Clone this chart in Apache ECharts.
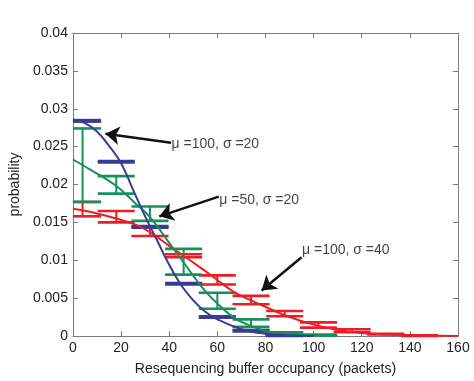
<!DOCTYPE html>
<html>
<head>
<meta charset="utf-8">
<script src="https://cdn.jsdelivr.net/npm/echarts@6/dist/echarts.min.js"></script>
<style>
html,body{margin:0;padding:0;background:#fff;}
#chart{width:474px;height:381px;}
</style>
</head>
<body>
<div id="chart"></div>
<script>
// ---- data ----
var xTicks = [0, 20, 40, 60, 80, 100, 120, 140, 160];
var yTicks = [0, 0.005, 0.01, 0.015, 0.02, 0.025, 0.03, 0.035, 0.04];

// smooth analytical curves (x, probability)
var blueCurveX = [0, 5, 10, 15, 20, 25, 30, 35, 40, 45, 50, 55, 60, 70, 80, 90, 100];
var blueCurveY = [0.0286, 0.0281, 0.0270, 0.0251, 0.0228, 0.0193, 0.0158, 0.0126, 0.0094, 0.0067, 0.0047, 0.0032, 0.0022, 0.0009, 0.0003, 0.0001, 0];

var greenCurveX = [0, 7, 18, 26, 32, 40, 46, 54, 60, 67, 75, 81, 90, 100, 110];
var greenCurveY = [0.0233, 0.0220, 0.0198, 0.0175, 0.0157, 0.0123, 0.0097, 0.0063, 0.0043, 0.0024, 0.0012, 0.0006, 0.0002, 0.0001, 0];

var redCurveX = [0, 7, 18, 26, 32, 40, 46, 54, 60, 67, 74, 81, 90, 100, 110, 120, 130, 140, 150, 160];
var redCurveY = [0.0168, 0.0164, 0.0155, 0.0147, 0.0137, 0.0119, 0.0106, 0.0088, 0.0074, 0.0058, 0.0047, 0.0037, 0.0025, 0.0015, 0.0008, 0.0004, 0.0002, 0.0001, 0.00003, 0];

// simulated histogram with error intervals (bin centre, upper, lower)
var binCenters = [4, 18, 32, 46, 60, 74, 88, 102, 116, 130, 144];
var blueUpper  = [0.0285, 0.0231, 0.0145, 0.0070, 0.0026, 0.0008, 0.0001];
var blueLower  = [0.0283, 0.0229, 0.0143, 0.0068, 0.0024, 0.0006, 0.0000];
var greenUpper = [0.0274, 0.0211, 0.0171, 0.0115, 0.0057, 0.0022, 0.0005, 0.0002];
var greenLower = [0.0177, 0.0188, 0.0152, 0.0081, 0.0036, 0.0012, 0.0003, 0.0001];
var redUpper   = [0.0177, 0.0165, 0.0144, 0.0108, 0.0080, 0.0053, 0.0033, 0.0018, 0.0009, 0.0003, 0.0001];
var redLower   = [0.0158, 0.0150, 0.0132, 0.0104, 0.0068, 0.0042, 0.0026, 0.0011, 0.0005, 0.0002, 0.0000];

// annotations
var noteText = ['\u03bc =100, \u03c3 =20', '\u03bc =50, \u03c3 =20', '\u03bc =100, \u03c3 =40'];
var noteX = [41.0, 60.8, 95.2];
var noteY = [0.0253, 0.0180, 0.0114];
var arrowTailX = [40.8, 60.6, 95.0];
var arrowTailY = [0.0255, 0.0184, 0.0104];
var arrowHeadX = [13.5, 35.9, 78.4];
var arrowHeadY = [0.0267, 0.0158, 0.0060];

// ---- build ----
var BLUE = '#3a3b92', GREEN = '#14925a', RED = '#ee1d25';
var FONT = '"Liberation Sans", Arial, Helvetica, sans-serif';

function zip(a, b) { return a.map(function (v, i) { return [v, b[i]]; }); }
function bars(up, lo) { return up.map(function (v, i) { return [binCenters[i], v, lo[i]]; }); }

var HALF = 7.7; // half bin width in data units
function makeRender(color) {
  return function (params, api) {
    var cs = params.coordSys;
    var c = api.value(0), hi = api.value(1), lo = api.value(2);
    var l1 = api.coord([c - HALF, hi]), r1 = api.coord([c + HALF, hi]);
    var l2 = api.coord([c - HALF, lo]), r2 = api.coord([c + HALF, lo]);
    var m1 = api.coord([c, hi]), m2 = api.coord([c, lo]);
    var xl = Math.max(l1[0], cs.x), xr = Math.min(r1[0], cs.x + cs.width);
    var st = { stroke: color, lineWidth: 2.6 };
    return {
      type: 'group',
      children: [
        { type: 'line', shape: { x1: xl, y1: l1[1], x2: xr, y2: r1[1] }, style: st },
        { type: 'line', shape: { x1: xl, y1: l2[1], x2: xr, y2: r2[1] }, style: st },
        { type: 'line', shape: { x1: m1[0], y1: m1[1], x2: m2[0], y2: m2[1] }, style: { stroke: color, lineWidth: 2 } }
      ]
    };
  };
}

function curve(name, xs, ys, color) {
  return {
    name: name, type: 'line', data: zip(xs, ys), showSymbol: false, symbol: 'none',
    smooth: 0.4,
    lineStyle: { color: color, width: 2 }, z: 3, animation: false
  };
}
function errs(name, up, lo, color) {
  return {
    name: name, type: 'custom', data: bars(up, lo), renderItem: makeRender(color),
    encode: { x: 0, y: [1, 2] }, z: 2, animation: false
  };
}

var markData = noteText.map(function (t, i) {
  return [{ coord: [arrowTailX[i], arrowTailY[i]] }, { coord: [arrowHeadX[i], arrowHeadY[i]] }];
});

var axisLineStyle = { color: '#7a7a7a', width: 1 };
var option = {
  backgroundColor: '#ffffff',
  animation: false,
  grid: { left: 66, right: 16, top: 33, bottom: 39, containLabel: false },
  xAxis: [{
    type: 'value', min: 0, max: 160, interval: 20, position: 'bottom',
    name: 'Resequencing buffer occupancy (packets)', nameLocation: 'middle', nameGap: 26,
    nameTextStyle: { fontFamily: FONT, fontSize: 14, color: '#222' },
    axisLine: { show: true, onZero: false, lineStyle: axisLineStyle },
    axisTick: { show: true, inside: true, length: 5, lineStyle: axisLineStyle },
    axisLabel: { fontFamily: FONT, fontSize: 14, color: '#222', margin: 5,
      formatter: function (v) { return xTicks.indexOf(v) >= 0 ? String(v) : ''; } },
    splitLine: { show: false }
  }, {
    type: 'value', min: 0, max: 160, interval: 20, position: 'top',
    axisLine: { show: true, onZero: false, lineStyle: axisLineStyle },
    axisTick: { show: true, inside: true, length: 5, lineStyle: axisLineStyle },
    axisLabel: { show: false }, splitLine: { show: false }
  }],
  yAxis: [{
    type: 'value', min: 0, max: 0.04, interval: 0.005, position: 'left',
    name: 'probability', nameLocation: 'middle', nameGap: 50,
    nameTextStyle: { fontFamily: FONT, fontSize: 14, color: '#222' },
    axisLine: { show: true, onZero: false, lineStyle: axisLineStyle },
    axisTick: { show: true, inside: true, length: 5, lineStyle: axisLineStyle },
    axisLabel: { fontFamily: FONT, fontSize: 14, color: '#222', margin: 5,
      formatter: function (v) {
        for (var i = 0; i < yTicks.length; i++) if (Math.abs(yTicks[i] - v) < 1e-9) return String(yTicks[i]);
        return '';
      } },
    splitLine: { show: false }
  }, {
    type: 'value', min: 0, max: 0.04, interval: 0.005, position: 'right',
    axisLine: { show: true, onZero: false, lineStyle: axisLineStyle },
    axisTick: { show: true, inside: true, length: 5, lineStyle: axisLineStyle },
    axisLabel: { show: false }, splitLine: { show: false }
  }],
  series: [
    errs('red bins', redUpper, redLower, RED),
    errs('green bins', greenUpper, greenLower, GREEN),
    errs('blue bins', blueUpper, blueLower, BLUE),
    curve('red', redCurveX, redCurveY, RED),
    curve('green', greenCurveX, greenCurveY, GREEN),
    curve('blue', blueCurveX, blueCurveY, BLUE),
    {
      name: 'notes', type: 'scatter', symbolSize: 0, z: 5,
      data: noteText.map(function (t, i) { return { value: [noteX[i], noteY[i]], label: { formatter: t } }; }),
      label: { show: true, position: 'right', distance: 0, fontFamily: FONT, fontSize: 14, color: '#111' },
      markLine: {
        silent: true, symbol: ['none', 'arrow'], symbolSize: 14, animation: false,
        lineStyle: { color: '#111', width: 2.5, type: 'solid' },
        label: { show: false },
        data: markData
      }
    }
  ]
};
var chart = echarts.init(document.getElementById('chart'), null, { renderer: 'canvas' });
chart.setOption(option);
</script>
</body>
</html>
